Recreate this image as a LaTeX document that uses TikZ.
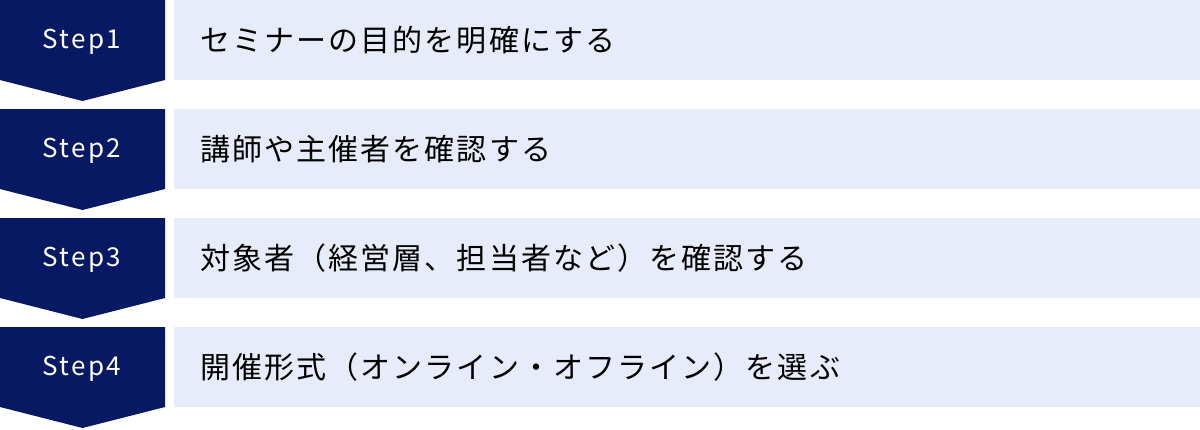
\documentclass[tikz,border=0pt]{standalone}
\usepackage{fontspec}
\setmainfont{Noto Sans CJK JP}
\newfontfamily\jpfont[LetterSpace=7]{Noto Sans CJK JP}
\newfontfamily\stepfont[LetterSpace=9]{Noto Sans CJK JP}
\definecolor{stepnavy}{RGB}{6,25,98}
\definecolor{rowblue}{RGB}{230,236,249}
\tikzset{
  step-arrow/.style={fill=stepnavy, draw=none},
  step-label/.style={text=white, font=\stepfont\fontsize{26}{26}\selectfont, anchor=base, inner sep=0pt},
  row-box/.style={fill=rowblue, draw=none},
  row-text/.style={text=black, font=\jpfont\fontsize{30}{30}\selectfont, anchor=base west, inner sep=0pt}
}
\newcommand{\steprow}[3]{
  % chevron and light box for one row
  \fill[step-arrow] (0,#1) -- (165,#1) -- (165,#1+80) -- (82.5,#1+101) -- (0,#1+80) -- cycle;
  \fill[row-box] (174,#1) rectangle (1200,#1+80);
  \node[step-label] (step#2) at (82,#1+48) {Step#2};
  \node[row-text] (text#2) at (200,#1+51) {#3};
}

\begin{document}
\begin{tikzpicture}[x=1pt, y=-1pt]
  \useasboundingbox (0,0) rectangle (1200,429);
  % Row 1
  \steprow{0}{1}{セミナーの目的を明確にする}
  % Row 2
  \steprow{109}{2}{講師や主催者を確認する}
  % Row 3
  \steprow{218}{3}{対象者（経営層、担当者など）を確認する}
  % Row 4
  \steprow{327}{4}{開催形式（オンライン・オフライン）を選ぶ}
\end{tikzpicture}
\end{document}
